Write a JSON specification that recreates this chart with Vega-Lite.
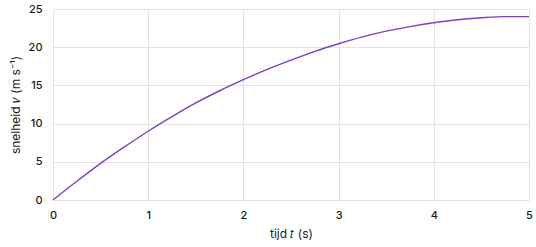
{
  "$schema": "https://vega.github.io/schema/vega-lite/v6.json",
  "width": 476,
  "height": 191,
  "autosize": {"type": "none"},
  "padding": {"left": 53, "top": 9, "right": 7, "bottom": 47},
  "background": "white",
  "config": {
    "view": {"stroke": null},
    "font": "Inter",
    "axis": {
      "labelFont": "Inter",
      "titleFont": "Inter",
      "labelFontSize": 11,
      "titleFontSize": 12,
      "labelColor": "#1a1a1a",
      "titleColor": "#1a1a1a",
      "labelFontWeight": 500,
      "titleFontWeight": 400,
      "gridColor": "#e3e3e3",
      "gridWidth": 1,
      "domain": false,
      "ticks": false,
      "labelFlush": false
    }
  },
  "data": {
    "values": [
      {"t": 0, "v": 0},
      {"t": 0.25, "v": 2.45},
      {"t": 0.5, "v": 4.8},
      {"t": 0.75, "v": 6.95},
      {"t": 1, "v": 9.0},
      {"t": 1.25, "v": 10.9},
      {"t": 1.5, "v": 12.7},
      {"t": 1.75, "v": 14.3},
      {"t": 2, "v": 15.75},
      {"t": 2.25, "v": 17.1},
      {"t": 2.5, "v": 18.3},
      {"t": 2.75, "v": 19.45},
      {"t": 3, "v": 20.45},
      {"t": 3.25, "v": 21.35},
      {"t": 3.5, "v": 22.1},
      {"t": 3.75, "v": 22.7},
      {"t": 4, "v": 23.2},
      {"t": 4.25, "v": 23.6},
      {"t": 4.5, "v": 23.85},
      {"t": 4.75, "v": 24.0},
      {"t": 5, "v": 24.0}
    ]
  },
  "mark": {"type": "line", "color": "#7f3fbf", "strokeWidth": 1.4, "interpolate": "monotone"},
  "encoding": {
    "x": {
      "field": "t",
      "type": "quantitative",
      "scale": {"domain": [0, 5], "nice": false},
      "axis": {"values": [0, 1, 2, 3, 4, 5], "title": "tijd 𝑡 (s)", "labelPadding": 9, "titlePadding": 8}
    },
    "y": {
      "field": "v",
      "type": "quantitative",
      "scale": {"domain": [0, 25], "nice": false},
      "axis": {"values": [0, 5, 10, 15, 20, 25], "title": "snelheid 𝑣 (m s⁻¹)", "labelPadding": 11, "titlePadding": 6}
    }
  }
}
